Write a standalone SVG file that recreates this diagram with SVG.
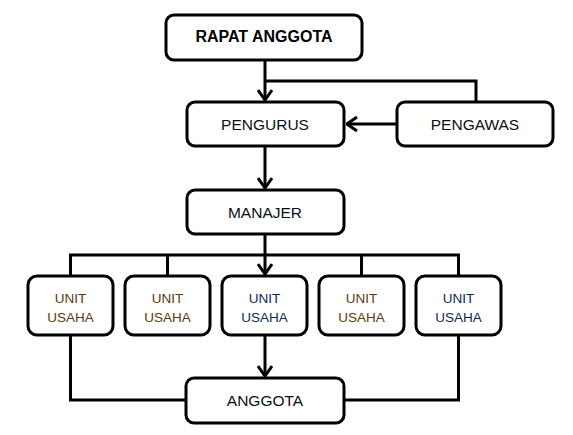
<svg xmlns="http://www.w3.org/2000/svg" width="573" height="435" viewBox="0 0 573 435">
<style>
.box{fill:#fff;stroke:#000;stroke-width:3}
.lbl{font-family:"Liberation Sans",Arial,sans-serif;font-size:15.5px;fill:#0a0f1a;text-anchor:middle}
.bold{font-weight:bold;fill:#000;font-size:16px}
.u{font-family:"Liberation Sans",Arial,sans-serif;font-size:13.5px;text-anchor:middle}
.br{fill:#5a3a0a}
.nv{fill:#0a2a55}
.ln{fill:none;stroke:#000;stroke-width:3}
</style>
<defs>
<marker id="arr" viewBox="0 0 12 16" refX="11" refY="8" markerWidth="12" markerHeight="16" markerUnits="userSpaceOnUse" orient="auto">
<path d="M1,1 L11,8 L1,15" fill="none" stroke="#000" stroke-width="3"/>
</marker>
</defs>
<rect width="573" height="435" fill="#fff"/>
<g id="connectors">
<path class="ln" d="M265,60 V100" marker-end="url(#arr)"/>
<path class="ln" d="M265,81 H476 V102"/>
<path class="ln" d="M397,124 H347" marker-end="url(#arr)"/>
<path class="ln" d="M265,146 V188" marker-end="url(#arr)"/>
<path class="ln" d="M265,234 V274" marker-end="url(#arr)"/>
<path class="ln" d="M70.5,276 V255 H458.5 V276"/>
<path class="ln" d="M167.5,255 V276"/>
<path class="ln" d="M361.5,255 V276"/>
<path class="ln" d="M265,335 V376" marker-end="url(#arr)"/>
<path class="ln" d="M70.5,335 V400 H186"/>
<path class="ln" d="M458.5,335 V400 H344"/>
</g>
<g id="rapat"><rect class="box" x="166" y="15" width="196" height="45" rx="8"/><text class="lbl bold" x="264" y="42">RAPAT ANGGOTA</text></g>
<g id="pengurus"><rect class="box" x="187" y="102" width="157" height="44" rx="8"/><text class="lbl" x="265" y="130">PENGURUS</text></g>
<g id="pengawas"><rect class="box" x="397" y="102" width="156" height="44" rx="8"/><text class="lbl" x="475" y="130">PENGAWAS</text></g>
<g id="manajer"><rect class="box" x="187" y="190" width="157" height="44" rx="8"/><text class="lbl" x="265" y="218">MANAJER</text></g>
<g id="unit1"><rect class="box" x="28" y="276" width="85" height="59" rx="9"/><text class="u br" x="70.5" y="302.5">UNIT</text><text class="u br" x="70.5" y="322">USAHA</text></g>
<g id="unit2"><rect class="box" x="125" y="276" width="85" height="59" rx="9"/><text class="u br" x="167.5" y="302.5">UNIT</text><text class="u br" x="167.5" y="322">USAHA</text></g>
<g id="unit3"><rect class="box" x="222" y="276" width="85" height="59" rx="9"/><text class="u nv" x="264.5" y="302.5">UNIT</text><text class="u nv" x="264.5" y="322">USAHA</text></g>
<g id="unit4"><rect class="box" x="319" y="276" width="85" height="59" rx="9"/><text class="u br" x="361.5" y="302.5">UNIT</text><text class="u br" x="361.5" y="322">USAHA</text></g>
<g id="unit5"><rect class="box" x="416" y="276" width="85" height="59" rx="9"/><text class="u nv" x="458.5" y="302.5">UNIT</text><text class="u nv" x="458.5" y="322">USAHA</text></g>
<g id="anggota"><rect class="box" x="186" y="378" width="158" height="45" rx="8"/><text class="lbl" x="265" y="405.5">ANGGOTA</text></g>
</svg>
